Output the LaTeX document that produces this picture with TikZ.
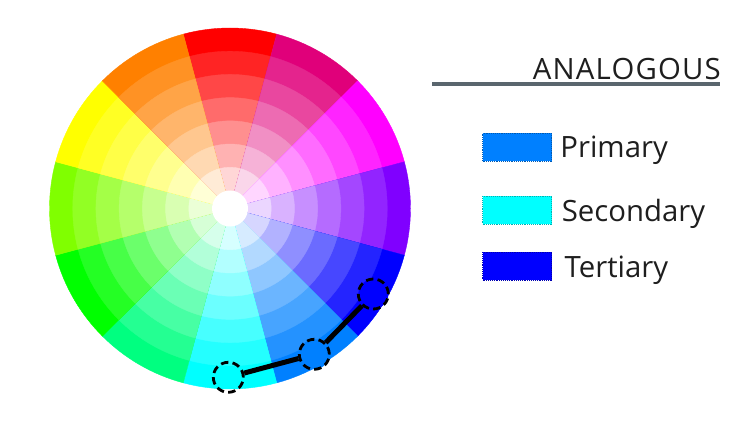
\documentclass[tikz,border=0pt]{standalone}
\usepackage{fontspec}
\setmainfont{Open Sans}
\newfontfamily\headfont[LetterSpace=4]{Open Sans}
\usetikzlibrary{positioning}

% hues of the wheel, clockwise from the top
\definecolor{cRed}{RGB}{255,0,0}
\definecolor{cRose}{RGB}{224,0,122}
\definecolor{cMagenta}{RGB}{255,0,255}
\definecolor{cViolet}{RGB}{128,0,255}
\definecolor{cBlue}{RGB}{0,0,255}
\definecolor{cAzure}{RGB}{0,128,255}
\definecolor{cCyan}{RGB}{0,255,255}
\definecolor{cSpring}{RGB}{0,255,128}
\definecolor{cGreen}{RGB}{0,255,0}
\definecolor{cChart}{RGB}{128,255,0}
\definecolor{cYellow}{RGB}{255,255,0}
\definecolor{cOrange}{RGB}{255,128,0}
\definecolor{ruleGray}{RGB}{90,102,110}
\definecolor{textGray}{RGB}{30,30,30}

\begin{document}
\begin{tikzpicture}[
  x=0.75pt, y=0.75pt, % one unit is one pixel of the picture
  every node/.style={text=textGray},
  headtext/.style={font=\headfont\fontsize{22}{26}\selectfont, inner sep=0pt},
  legendtext/.style={font=\fontsize{22}{26}\selectfont, inner sep=0pt},
  swatch/.style={rectangle, minimum width=51.75pt, minimum height=21pt, densely dotted, line width=0.4pt},
  pick/.style={circle, draw=black, line width=2.1pt, dash pattern=on 5.6pt off 3.2pt, minimum size=22.5pt, inner sep=0pt}, % dashed ring on a hue
  pickline/.style={draw=black, line width=3.75pt} % thick link between picks
]
\useasboundingbox (0,0) rectangle (755,425);

% Colour wheel: 12 hues, 7 rings fading to white
\coordinate (C) at (230,216.5);
\foreach \k/\hue in {0/cRed, 1/cRose, 2/cMagenta, 3/cViolet, 4/cBlue, 5/cAzure,
                     6/cCyan, 7/cSpring, 8/cGreen, 9/cChart, 10/cYellow, 11/cOrange} {
  \foreach \i in {0,...,6} {
    \pgfmathsetmacro\r{180.5-\i*23.21}
    \pgfmathtruncatemacro\t{100-\i*14}
    \pgfmathsetmacro\sa{90-30*\k-15}
    \pgfmathsetmacro\ea{90-30*\k+15}
    \filldraw[fill=\hue!\t!white, draw=\hue!\t!white, line width=0.3pt]
      (C) -- ++(\sa:\r) arc[start angle=\sa, end angle=\ea, radius=\r] -- cycle;
  }
}
\fill[white] (C) circle (18);

% Analogous picks
\node[pick] (p1) at (228.3,47.7) {};
\node[pick, fill=cAzure] (p2) at (314.3,70.7) {};
\node[pick, fill=cBlue] (p3) at (373.3,131) {};
\draw[pickline] (p1) -- (p2);
\draw[pickline] (p2) -- (p3);

% Title
\node[headtext, anchor=base east] (title) at (721,345.7) {ANALOGOUS};
\coordinate (rulestart) at (432,341);
\coordinate (ruleend) at (720,341);
\draw[ruleGray, line width=2.5pt] (rulestart) -- (ruleend);

% Legend
\node[swatch, fill=cAzure, draw=cAzure!70!black] (pbox) at (517,277.5) {};
\node[swatch, fill=cCyan, draw=cCyan!70!black] (sbox) at (517,214.8) {};
\node[swatch, fill=cBlue, draw=cBlue!70!black] (tbox) at (517,158.8) {};
\node[legendtext, right=6.3pt of pbox.east, anchor=base west, yshift=-7.35pt] (ptext) {Primary};
\node[legendtext, right=7.3pt of sbox.east, anchor=base west, yshift=-8.6pt] (stext) {Secondary};
\node[legendtext, right=9.5pt of tbox.east, anchor=base west, yshift=-8.3pt] (ttext) {Tertiary};

\end{tikzpicture}
\end{document}
